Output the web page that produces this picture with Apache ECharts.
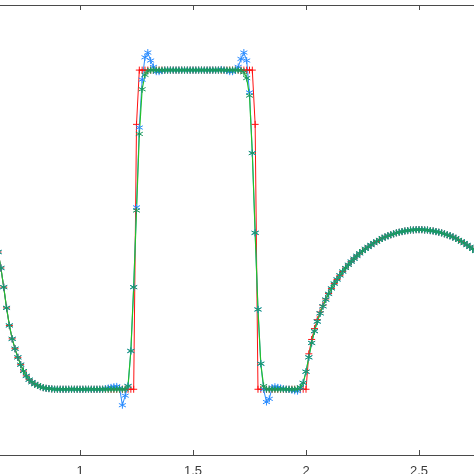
<!DOCTYPE html>
<html>
<head>
<meta charset="utf-8">
<script src="https://cdn.jsdelivr.net/npm/echarts@6/dist/echarts.min.js"></script>
<style>html,body{margin:0;padding:0;background:#fff;}#c{width:474px;height:474px;}</style>
</head>
<body>
<div id="c"></div>
<script>
// x grid (shared by all series)
var xs = [
0.6,0.6125,0.625,0.6375,0.65,0.6625,0.675,0.6875,
0.7,0.7125,0.725,0.7375,0.75,0.7625,0.775,0.7875,
0.8,0.8125,0.825,0.8375,0.85,0.8625,0.875,0.8875,
0.9,0.9125,0.925,0.9375,0.95,0.9625,0.975,0.9875,
1,1.0125,1.025,1.0375,1.05,1.0625,1.075,1.0875,
1.1,1.1125,1.125,1.1375,1.15,1.1625,1.175,1.1875,
1.2,1.2125,1.225,1.2375,1.25,1.2625,1.275,1.2875,
1.3,1.3125,1.325,1.3375,1.35,1.3625,1.375,1.3875,
1.4,1.4125,1.425,1.4375,1.45,1.4625,1.475,1.4875,
1.5,1.5125,1.525,1.5375,1.55,1.5625,1.575,1.5875,
1.6,1.6125,1.625,1.6375,1.65,1.6625,1.675,1.6875,
1.7,1.7125,1.725,1.7375,1.75,1.7625,1.775,1.7875,
1.8,1.8125,1.825,1.8375,1.85,1.8625,1.875,1.8875,
1.9,1.9125,1.925,1.9375,1.95,1.9625,1.975,1.9875,
2,2.0125,2.025,2.0375,2.05,2.0625,2.075,2.0875,
2.1,2.1125,2.125,2.1375,2.15,2.1625,2.175,2.1875,
2.2,2.2125,2.225,2.2375,2.25,2.2625,2.275,2.2875,
2.3,2.3125,2.325,2.3375,2.35,2.3625,2.375,2.3875,
2.4,2.4125,2.425,2.4375,2.45,2.4625,2.475,2.4875,
2.5,2.5125,2.525,2.5375,2.55,2.5625,2.575,2.5875,
2.6,2.6125,2.625,2.6375,2.65,2.6625,2.675,2.6875,
2.7,2.7125,2.725,2.7375,2.75,2.7625,2.775,2.7875,
2.8];

// red '+' series (reference solution)
var redY = [
0.60,0.55,0.49,0.43,0.38,0.32,0.255,0.20,
0.158,0.127,0.10,0.077,0.057,0.042,0.03,0.022,
0.016,0.012,0.008,0.005,0.003,0.002,0.001,0,
0,0,0,0,0,0,0,0,
0,0,0,0,0,0,0,0,
0,0,0,0,0,0,0,0,
0,0,0,0,0.83,1,1,1,
1,1,1,1,1,1,1,1,
1,1,1,1,1,1,1,1,
1,1,1,1,1,1,1,1,
1,1,1,1,1,1,1,1,
1,1,1,1,1,1,0.83,0,
0,0,0,0,0,0,0,0,
0,0,0,0,0,0,0,0,
0,0.111,0.156,0.190,0.218,0.242,0.263,0.283,
0.300,0.316,0.331,0.344,0.357,0.369,0.380,0.390,
0.400,0.409,0.418,0.426,0.433,0.440,0.446,0.452,
0.458,0.463,0.468,0.473,0.477,0.481,0.484,0.487,
0.490,0.492,0.494,0.496,0.497,0.499,0.499,0.500,
0.500,0.500,0.499,0.499,0.497,0.496,0.494,0.492,
0.490,0.487,0.484,0.481,0.477,0.473,0.468,0.463,
0.458,0.452,0.446,0.440,0.433,0.426,0.418,0.409,
0.400];

// blue '*' series (oscillatory scheme)
var blueY = [
0.60,0.55,0.49,0.43,0.38,0.32,0.255,0.20,
0.158,0.127,0.10,0.077,0.057,0.042,0.03,0.022,
0.016,0.012,0.008,0.005,0.003,0.002,0.001,0,
0,0,0,0,0,0,0,0,
0,0,0,0,0,0,0,0,
0,0.002,0.004,0.006,0.008,0.009,0.004,-0.05,
-0.02,0.01,0.12,0.32,0.57,0.82,0.97,1.04,
1.055,1.03,1.01,0.995,0.995,0.998,1,1,
1,1,1,1,1,1,1,1,
1,1,1,1,1,1,1,1,
1,1,1.002,1,0.998,0.995,0.995,1,
1.01,1.035,1.055,1.03,0.93,0.74,0.49,0.25,
0.08,0,-0.04,-0.03,0.005,0.008,0.006,0.004,
0.002,0,0,-0.003,-0.005,-0.006,0.004,0.02,
0.055,0.10,0.145,0.182,0.212,0.238,0.26,0.281,
0.299,0.316,0.331,0.344,0.357,0.369,0.380,0.390,
0.400,0.409,0.418,0.426,0.433,0.440,0.446,0.452,
0.458,0.463,0.468,0.473,0.477,0.481,0.484,0.487,
0.490,0.492,0.494,0.496,0.497,0.499,0.499,0.500,
0.500,0.500,0.499,0.499,0.497,0.496,0.494,0.492,
0.490,0.487,0.484,0.481,0.477,0.473,0.468,0.463,
0.458,0.452,0.446,0.440,0.433,0.426,0.418,0.409,
0.400];

// green series (non-oscillatory scheme)
var greenY = [
0.60,0.55,0.49,0.43,0.38,0.32,0.255,0.20,
0.158,0.127,0.10,0.077,0.057,0.042,0.03,0.022,
0.016,0.012,0.008,0.005,0.003,0.002,0.001,0,
0,0,0,0,0,0,0,0,
0,0,0,0,0,0,0,0,
0,0,0,0,0,0,0,0,
0,0.01,0.12,0.32,0.56,0.80,0.94,0.985,
0.997,1,1,1,1,1,1,1,
1,1,1,1,1,1,1,1,
1,1,1,1,1,1,1,1,
1,1,1,1,1,1,1,1,
1,0.999,0.993,0.975,0.92,0.74,0.49,0.25,
0.08,0.01,0,0,0,0,0,0,
0,0,0,0,0,0.001,0.006,0.02,
0.055,0.10,0.145,0.182,0.212,0.238,0.26,0.281,
0.299,0.316,0.331,0.344,0.357,0.369,0.380,0.390,
0.400,0.409,0.418,0.426,0.433,0.440,0.446,0.452,
0.458,0.463,0.468,0.473,0.477,0.481,0.484,0.487,
0.490,0.492,0.494,0.496,0.497,0.499,0.499,0.500,
0.500,0.500,0.499,0.499,0.497,0.496,0.494,0.492,
0.490,0.487,0.484,0.481,0.477,0.473,0.468,0.463,
0.458,0.452,0.446,0.440,0.433,0.426,0.418,0.409,
0.400];

var xTickLabels = [1, 1.5, 2, 2.5];

function pairs(ys){ return xs.map(function(x,i){ return [x, ys[i]]; }); }

var PLUS = 'path://M0,5L10,5M5,0L5,10';
var STAR = 'path://M5,0L5,10M0.7,2.5L9.3,7.5M0.7,7.5L9.3,2.5';
var CROSS = 'path://M0,0L10,10M0,10L10,0';

function mk(name, ys, lineColor, markColor, symbol, size, lw){
  return {
    name: name, type: 'line', data: pairs(ys),
    symbol: symbol, symbolSize: size, showSymbol: true, showAllSymbol: true,
    lineStyle: {color: lineColor, width: lw},
    itemStyle: {color: 'rgba(0,0,0,0)', borderColor: markColor, borderWidth: 1},
    emphasis: {disabled: true}, silent: true, z: 2
  };
}

var axisCol = '#4a4a4a';
var chart = echarts.init(document.getElementById('c'), null, {renderer: 'canvas'});
chart.setOption({
  animation: false,
  backgroundColor: '#ffffff',
  grid: {left: -33, right: -58, top: 5, bottom: 19, containLabel: false, outerBoundsMode: 'none'},
  xAxis: [{
    type: 'value', position: 'bottom', min: 0.5, max: 3, interval: 0.5,
    axisLine: {show: true, onZero: false, lineStyle: {color: axisCol, width: 1}},
    axisTick: {show: true, inside: true, length: 5, lineStyle: {color: axisCol}},
    splitLine: {show: false},
    axisLabel: {margin: 10, fontSize: 13, color: '#3a3a3a', fontFamily: 'Liberation Sans, Arial, sans-serif',
      formatter: function(v){ return xTickLabels.indexOf(+v.toFixed(2)) >= 0 ? String(+v.toFixed(2)) : ''; }}
  },{
    type: 'value', position: 'top', min: 0.5, max: 3, interval: 0.5,
    axisLine: {show: true, onZero: false, lineStyle: {color: axisCol, width: 1}},
    axisTick: {show: true, inside: true, length: 5, lineStyle: {color: axisCol}},
    splitLine: {show: false},
    axisLabel: {show: false}
  }],
  yAxis: {type: 'value', min: -0.206, max: 1.204, show: false, splitLine: {show: false}},
  series: [
    mk('red', redY, '#ff1010', '#ff1010', PLUS, 7, 1),
    mk('blue', blueY, '#2a8cff', '#2a8cff', STAR, 7, 1),
    mk('green', greenY, '#22c02a', '#1a9a5e', STAR, 7, 1.2)
  ]
});
</script>
</body>
</html>
